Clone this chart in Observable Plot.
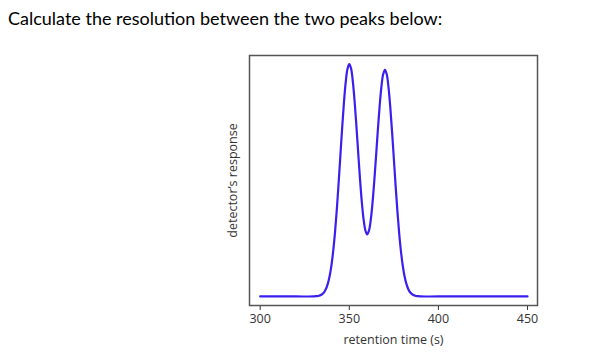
<!DOCTYPE html>
<html>
<head>
<meta charset="utf-8">
<script src="https://cdn.jsdelivr.net/npm/d3@7"></script>
<script src="https://cdn.jsdelivr.net/npm/@observablehq/plot@0.6"></script>
<style>
  html, body { margin: 0; padding: 0; background: #fff; }
  #title { font-family: Lato, "Open Sans", sans-serif; font-size: 18px; color: #000; height: 40px; line-height: 36px; padding-left: 8px; box-sizing: border-box; }
  #chart svg { display: block; }
</style>
</head>
<body>
<div id="title">Calculate the resolution between the two peaks below:</div>
<div id="chart"></div>
<script>
// retention time (s)
const times = [300, 320, 330, 331, 332, 333, 334, 335, 336, 337, 338, 339,
  340, 341, 342, 343, 344, 345, 346, 347, 348, 349,
  350, 351, 352, 353, 354, 355, 356, 357, 358, 359,
  360, 361, 362, 363, 364, 365, 366, 367, 368, 369,
  370, 371, 372, 373, 374, 375, 376, 377, 378, 379,
  380, 381, 382, 383, 384, 385, 386, 387, 388, 389, 390, 400, 450];
// detector's response (arbitrary units, baseline = 0)
const response = [0, 0, 0.000, 0.001, 0.0015, 0.003, 0.006, 0.011, 0.020, 0.034, 0.056, 0.089,
  0.135, 0.198, 0.278, 0.375, 0.487, 0.607, 0.726, 0.835, 0.923, 0.980,
  1.000, 0.981, 0.924, 0.838, 0.732, 0.618, 0.506, 0.408, 0.333, 0.285,
  0.267, 0.282, 0.327, 0.400, 0.495, 0.603, 0.714, 0.817, 0.901, 0.956,
  0.975, 0.956, 0.900, 0.814, 0.708, 0.592, 0.475, 0.366, 0.271, 0.193,
  0.132, 0.087, 0.055, 0.033, 0.019, 0.011, 0.006, 0.003, 0.0015, 0.001, 0, 0, 0];
const xTicks = [300, 350, 400, 450];
const xLabel = "retention time (s)";
const yLabel = "detector\u2019s response";

const data = times.map((t, i) => ({t, r: response[i]}));

const chart = Plot.plot({
  width: 616,
  height: 322,
  marginLeft: 249,
  marginRight: 79,
  marginTop: 15,
  marginBottom: 57,
  style: {fontFamily: "'Open Sans', sans-serif", fontSize: "12.5px", color: "#333", background: "#fff"},
  x: {domain: [294, 455.6], ticks: xTicks, tickSize: 5, tickPadding: 4, label: xLabel, labelAnchor: "center", labelArrow: "none", labelOffset: 38},
  y: {domain: [-0.039, 1.037], ticks: [], label: yLabel, labelAnchor: "center", labelArrow: "none", labelOffset: 21},
  marks: [
    Plot.frame({stroke: "#555", strokeWidth: 1.5}),
    Plot.line(data, {x: "t", y: "r", stroke: "#3a1ff0", strokeWidth: 2.2, curve: "catmull-rom"})
  ]
});
document.getElementById("chart").appendChild(chart);
</script>
</body>
</html>
